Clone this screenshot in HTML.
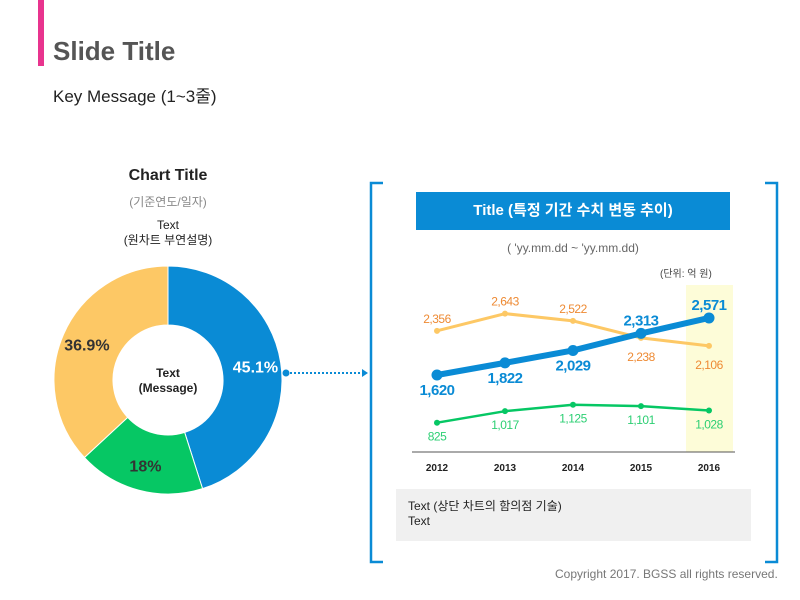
<!DOCTYPE html>
<html><head><meta charset="utf-8"><style>
body{margin:0;width:800px;height:600px;background:#fff;font-family:"Liberation Sans","Noto Sans CJK KR",sans-serif;overflow:hidden;position:relative}
.a{position:absolute}
</style></head><body>
<div class="a" style="left:38px;top:0;width:6px;height:66px;background:#e8348e"></div>
<div class="a" style="left:53px;top:36px;font-size:26px;font-weight:bold;color:#555">Slide Title</div>
<div class="a" style="left:53px;top:82px;font-size:17px;color:#222">Key Message (1~3줄)</div>

<div class="a" style="left:68px;width:200px;top:167px;text-align:center;font-size:16px;font-weight:bold;color:#222">Chart Title</div>
<div class="a" style="left:68px;width:200px;top:193px;text-align:center;font-size:12px;color:#888">(기준연도/일자)</div>
<div class="a" style="left:68px;width:200px;top:218px;text-align:center;font-size:12px;color:#222;line-height:15px">Text<br>(원차트 부연설명)</div>

<svg class="a" style="left:0;top:0" width="800" height="600">
<g id="donut"></g>
<text x="168" y="377" text-anchor="middle" font-size="12" font-weight="bold" fill="#222">Text</text>
<text x="168" y="392" text-anchor="middle" font-size="12" font-weight="bold" fill="#222">(Message)</text>
<circle cx="286" cy="373" r="3.5" fill="#0a8bd5"/>
<line x1="290" y1="373" x2="362" y2="373" stroke="#0a8bd5" stroke-width="2" stroke-dasharray="2,2"/>
<polygon points="362,369 368,373 362,377" fill="#0a8bd5"/>
<path d="M383,183 H371 V562 H383" fill="none" stroke="#0a8bd5" stroke-width="2.5"/>
<path d="M765,183 H777 V562 H765" fill="none" stroke="#0a8bd5" stroke-width="2.5"/>
<rect x="686" y="285" width="47" height="167" fill="#fdfcd8"/>
<line x1="412" y1="452" x2="735" y2="452" stroke="#555" stroke-width="1"/>
<g id="lines"></g>
</svg>

<div class="a" style="left:416px;top:192px;width:314px;height:38px;background:#0a8bd5;color:#fff;font-size:15px;font-weight:bold;text-align:center;line-height:38px">Title (특정 기간 수치 변동 추이)</div>
<div class="a" style="left:416px;width:314px;top:241px;text-align:center;font-size:12px;color:#666">( 'yy.mm.dd ~ 'yy.mm.dd)</div>
<div class="a" style="left:660px;top:265px;font-size:10px;color:#444">(단위: 억 원)</div>
<div class="a" style="left:396px;top:489px;background:#f0f0f0;padding:10px 0 0 12px;box-sizing:border-box;width:355px;height:52px;font-size:12px;color:#222;line-height:15px">Text (상단 차트의 함의점 기술)<br>Text</div>
<div class="a" style="left:555px;top:567px;font-size:12px;color:#777">Copyright 2017. BGSS all rights reserved.</div>

<script>
const sliceLabels=["45.1%","18%","36.9%"];
const sliceValues=[45.1,18,36.9];
const sliceColors=["#0a8bd5","#06c764","#fdc865"];
const years=["2012","2013","2014","2015","2016"];
const seriesBlue=[1620,1822,2029,2313,2571];
const seriesOrange=[2356,2643,2522,2238,2106];
const seriesGreen=[825,1017,1125,1101,1028];
const NS="http://www.w3.org/2000/svg";
function mk(t,a,p){const e=document.createElementNS(NS,t);for(const k in a)e.setAttribute(k,a[k]);p.appendChild(e);return e;}
const dg=document.getElementById('donut');
const cx=168,cy=380,R=114,r=55;
let tot=sliceValues.reduce((a,b)=>a+b,0),ang=0;
sliceValues.forEach((v,i)=>{
  const a0=ang,a1=ang+v/tot*2*Math.PI;ang=a1;
  const p=(a,rr)=>[cx+rr*Math.sin(a),cy-rr*Math.cos(a)];
  const [x0,y0]=p(a0,R),[x1,y1]=p(a1,R),[x2,y2]=p(a1,r),[x3,y3]=p(a0,r);
  const lf=(a1-a0)>Math.PI?1:0;
  const path=mk('path',{d:`M${x0},${y0}A${R},${R} 0 ${lf} 1 ${x1},${y1}L${x2},${y2}A${r},${r} 0 ${lf} 0 ${x3},${y3}Z`,fill:sliceColors[i],stroke:'#fff','stroke-width':1},dg);
  
  
  const m=(a0+a1)/2,[lx,ly]=p(m,(R+r)/2+4);
  const t=mk('text',{x:lx,y:ly+6,'text-anchor':'middle','font-size':16,'font-weight':'bold',fill:i==0?'#fff':'#333'},dg);
  t.textContent=sliceLabels[i];
  
  
});
const lg=document.getElementById('lines');
const xs=i=>437+i*68;
const ys=v=>472.2-v*0.06;
years.forEach((y,i)=>{
  const t=mk('text',{x:xs(i),y:471,'text-anchor':'middle','font-size':10,'font-weight':'bold',fill:'#222'},lg);
  t.textContent=y;
  
  
});
function series(vals,color,w,rad,name,fs,bold,dy){
  const pl=mk('polyline',{points:vals.map((v,i)=>xs(i)+','+ys(v)).join(' '),fill:'none',stroke:color,'stroke-width':w},lg);
  
  
  vals.forEach((v,i)=>{
    const c=mk('circle',{cx:xs(i),cy:ys(v),r:rad,fill:color},lg);
    
    
    const t=mk('text',{x:xs(i),y:ys(v)+dy(i),'text-anchor':'middle','font-size':fs,'font-weight':bold?'bold':'normal',fill:name=='blue'?'#0a8bd5':name=='orange'?'#ee8a33':'#2ccf73','letter-spacing':'-0.5'},lg);
    t.textContent=v.toLocaleString('en-US');
    
    
  });
}
series(seriesOrange,'#fdc865',3,3,'orange',12,false,i=>i>=3?23:-8);
series(seriesGreen,'#06c764',2.5,3,'green',12,false,i=>18);
series(seriesBlue,'#0a8bd5',6,5.5,'blue',15,true,i=>i<=2?20:-8);
</script>
</body></html>
